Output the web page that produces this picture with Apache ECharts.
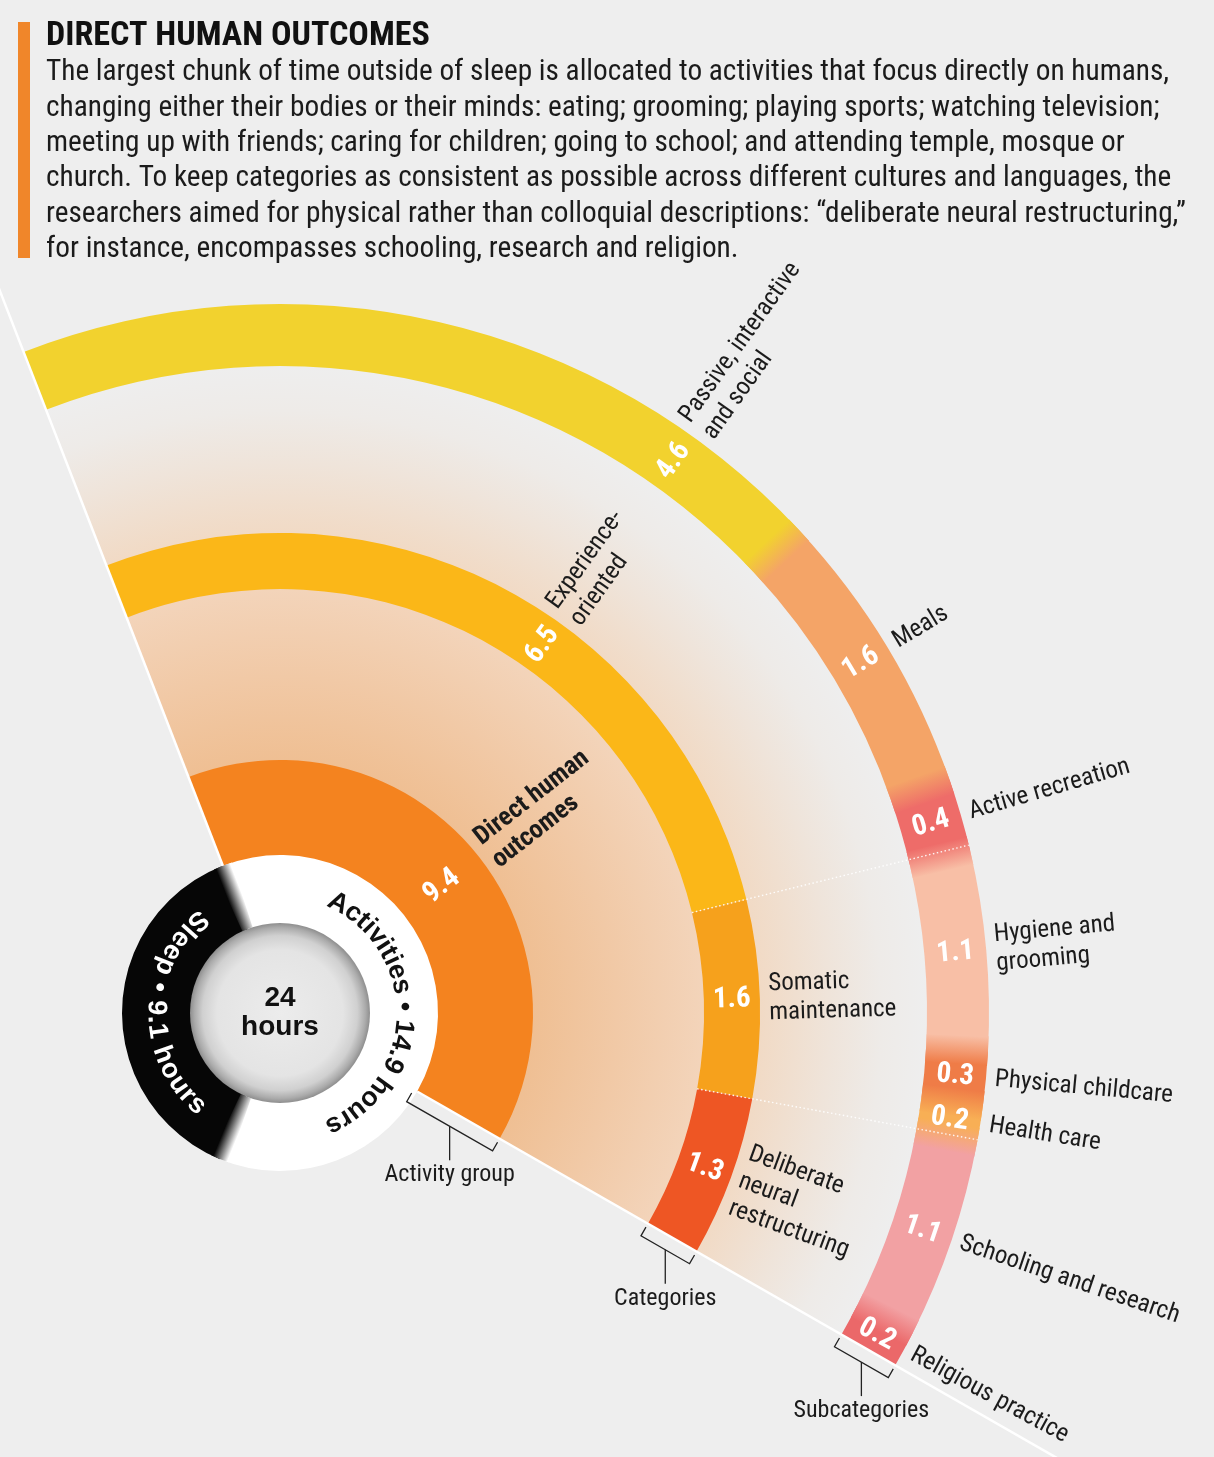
<!DOCTYPE html>
<html lang="en">
<head>
<meta charset="UTF-8">
<meta name="viewport" content="width=device-width, initial-scale=1.0">
<title>Direct human outcomes</title>
<script src="https://cdn.jsdelivr.net/npm/echarts@6.0.0/dist/echarts.min.js"></script>
<style>
    html, body { margin: 0; padding: 0; background: #eeeeee; }
    #container { width: 1214px; height: 1457px; }
</style>
</head>
<body>
<div id="container"></div>
<script type="text/javascript">
    // hours per day
    const totalHours = 24;
    const ringNames = ['Activities', 'Sleep'];
    const ringHours = [14.9, 9.1];
    const groupName = 'Direct human\noutcomes';
    const groupHours = 9.4;
    const categoryNames = ['Experience-\noriented', 'Somatic\nmaintenance', 'Deliberate\nneural\nrestructuring'];
    const categoryHours = [6.5, 1.6, 1.3];
    const subNames = ['Passive, interactive\nand social', 'Meals', 'Active recreation', 'Hygiene and\ngrooming',
        'Physical childcare', 'Health care', 'Schooling and research', 'Religious practice'];
    const subHours = [4.6, 1.6, 0.4, 1.1, 0.3, 0.2, 1.1, 0.2];

    const titleText = 'DIRECT HUMAN OUTCOMES';
    const introLines = [
        'The largest chunk of time outside of sleep is allocated to activities that focus directly on humans,',
        'changing either their bodies or their minds: eating; grooming; playing sports; watching television;',
        'meeting up with friends; caring for children; going to school; and attending temple, mosque or',
        'church. To keep categories as consistent as possible across different cultures and languages, the',
        'researchers aimed for physical rather than colloquial descriptions: \u201cdeliberate neural restructuring,\u201d',
        'for instance, encompasses schooling, research and religion.'
    ];
    const bracketLabels = ['Activity group', 'Categories', 'Subcategories'];

    // layout
    const CX = 280, CY = 1013, START = 111.2, DEG = Math.PI / 180;
    const R_CORE = 90, R_RING = 158, R_GROUP = 253;
    const R_CAT = [424, 480], R_SUB = [647, 709];
    const labelAngle = { 'Direct human\noutcomes': 38, 'Experience-\noriented': 54.5, 'Passive, interactive\nand social': 54.5 };

    const ringColors = ['#ffffff', '#060606'];
    const groupColor = '#f4831f';
    const categoryColors = ['#fbb718', '#f6a11c', '#ee5624'];
    const subColors = ['#f2d22e', '#f4a467', '#ee6c69', '#f8bfa6', '#ef7c47', '#f8af55', '#f2a1a3', '#eb6869'];

    const NARROW = '"Liberation Sans Narrow", "Arial Narrow", "Roboto Condensed", sans-serif';
    const SANS = '"Liberation Sans", Arial, Roboto, sans-serif';
    const INK = '#1b1b1b';

    const measureCtx = document.createElement('canvas').getContext('2d');
    function textWidth(str, font) {
        measureCtx.font = font;
        return measureCtx.measureText(str).width;
    }
    function sum(arr) { return arr.reduce((a, b) => a + b, 0); }
    function pt(deg, r) { return [CX + r * Math.cos(deg * DEG), CY - r * Math.sin(deg * DEG)]; }
    function plain(name) { return name.replace('-\n', '-').replace(/\n/g, ' '); }

    // start/end/mid angle of every slice, same rule the pie uses
    function spans(values, spanHours) {
        const total = sum(values);
        let acc = 0;
        return values.map(v => {
            const a0 = START - acc / total * spanHours / totalHours * 360;
            acc += v;
            const a1 = START - acc / total * spanHours / totalHours * 360;
            return [a0, a1, (a0 + a1) / 2];
        });
    }
    const ringSpans = spans(ringHours, totalHours);
    const groupSpan = spans([groupHours], groupHours)[0];
    const catSpans = spans(categoryHours, groupHours);
    const subSpans = spans(subHours, groupHours);
    const groupEnd = groupSpan[1];

    function bandSeries(names, values, colors, radius, spanHours, z) {
        const total = sum(values);
        const data = values.map((v, i) => ({ name: plain(names[i]), value: v, itemStyle: { color: colors[i] } }));
        const rest = total * totalHours / spanHours - total;
        if (rest > 1e-6) data.push({ name: 'rest', value: rest, itemStyle: { color: 'rgba(0,0,0,0)' } });
        return {
            type: 'pie', center: [CX, CY], radius: radius, startAngle: START, clockwise: true,
            z: z, silent: true, animation: false, avoidLabelOverlap: false,
            label: { show: false }, labelLine: { show: false }, emphasis: { disabled: true },
            itemStyle: { borderWidth: 0 }, data: data
        };
    }

    const zoneFill = {
        type: 'radial', x: CX, y: CY, r: R_SUB[0], global: true,
        colorStops: [
            { offset: 0, color: '#efbc8f' },
            { offset: 0.39, color: '#efbf93' },
            { offset: 0.52, color: '#f1c9a6' },
            { offset: 0.655, color: '#f3d4ba' },
            { offset: 0.742, color: '#f1dac5' },
            { offset: 0.85, color: '#efe4da' },
            { offset: 0.93, color: '#eeebe8' },
            { offset: 1, color: '#eeeeee' }
        ]
    };

    const g = [];

    // header
    const titleSize = Math.round(32 * 384 / textWidth(titleText, 'bold 32px ' + NARROW) * 10) / 10;
    const bodySize = Math.round(28 * 1122 / textWidth(introLines[0], '28px ' + NARROW) * 10) / 10;
    g.push({ type: 'rect', z: 50, shape: { x: 18, y: 22, width: 12, height: 236 }, style: { fill: '#f0862a' } });
    g.push({ type: 'text', z: 50, x: 46, y: 36, style: { text: titleText, fill: '#111', fontSize: titleSize, fontWeight: 'bold', fontFamily: NARROW, verticalAlign: 'middle' } });
    introLines.forEach((line, i) => {
        g.push({ type: 'text', z: 50, x: 46, y: 73 + i * 35.3, style: { text: line, fill: INK, fontSize: bodySize, fontFamily: NARROW, verticalAlign: 'middle' } });
    });

    // soft seam between two slices
    function fade(deg, half, r0, r1, colorHi, colorLo, z) {
        const a = pt(deg + half, (r0 + r1) / 2), b = pt(deg - half, (r0 + r1) / 2);
        g.push({
            type: 'sector', z: z, silent: true,
            shape: { cx: CX, cy: CY, r0: r0, r: r1, startAngle: -(deg + half) * DEG, endAngle: -(deg - half) * DEG, clockwise: true },
            style: { fill: { type: 'linear', x: a[0], y: a[1], x2: b[0], y2: b[1], global: true,
                colorStops: [{ offset: 0, color: colorHi }, { offset: 1, color: colorLo }] } }
        });
    }
    fade(ringSpans[0][0], 3.5, R_CORE, R_RING, ringColors[1], ringColors[0], 10);
    fade(ringSpans[0][1], 3.5, R_CORE, R_RING, ringColors[0], ringColors[1], 10);
    subSpans.slice(0, -1).forEach((s, i) => fade(s[1], 1.2, R_SUB[0], R_SUB[1], subColors[i], subColors[i + 1], 10));

    // inner disc
    g.push({
        type: 'circle', z: 12, shape: { cx: CX, cy: CY, r: R_CORE },
        style: { fill: { type: 'radial', x: 0.5, y: 0.5, r: 0.5, colorStops: [
            { offset: 0, color: '#ececec' }, { offset: 0.7, color: '#e4e4e4' }, { offset: 0.86, color: '#d0d0d0' },
            { offset: 0.95, color: '#ababab' }, { offset: 1, color: '#8e8e8e' }] } }
    });
    g.push({ type: 'text', z: 40, x: CX, y: CY, style: { text: totalHours + '\nhours', fill: '#111', fontSize: 28, fontWeight: 'bold', fontFamily: SANS, lineHeight: 29, align: 'center', verticalAlign: 'middle' } });

    // white edge rays and dotted category seams
    [[START, 800], [groupEnd, 900]].forEach(([deg, r]) => {
        const a = pt(deg, R_RING), b = pt(deg, r);
        g.push({ type: 'line', z: 20, shape: { x1: a[0], y1: a[1], x2: b[0], y2: b[1] }, style: { stroke: '#ffffff', lineWidth: 2.5 } });
    });
    catSpans.slice(0, -1).forEach(s => {
        const a = pt(s[1], R_CAT[0]), b = pt(s[1], R_SUB[1]);
        g.push({ type: 'line', z: 20, shape: { x1: a[0], y1: a[1], x2: b[0], y2: b[1] }, style: { stroke: '#ffffff', lineWidth: 1.4, lineDash: [1.5, 2.5], opacity: 0.9 } });
    });

    // text around the ring
    function arcText(str, midDeg, r, clockwise, fill) {
        const font = 'bold 27px ' + SANS;
        const chars = Array.from(str);
        const widths = chars.map(ch => textWidth(ch, font) + 0.5);
        const total = sum(widths);
        let acc = 0;
        chars.forEach((ch, i) => {
            const s = acc + widths[i] / 2 - total / 2;
            acc += widths[i];
            const th = midDeg * DEG + (clockwise ? -s / r : s / r);
            g.push({
                type: 'text', z: 40, x: CX + r * Math.cos(th), y: CY - r * Math.sin(th),
                rotation: clockwise ? th - Math.PI / 2 : th + Math.PI / 2,
                style: { text: ch, fill: fill, fontSize: 27, fontWeight: 'bold', fontFamily: SANS, align: 'center', verticalAlign: 'middle' }
            });
        });
    }
    const ringMid = (R_CORE + R_RING) / 2;
    arcText(ringNames[0] + ' \u2022 ' + ringHours[0] + ' hours', ringSpans[0][2], ringMid, true, '#111');
    arcText(ringNames[1] + ' \u2022 ' + ringHours[1] + ' hours', ringSpans[1][2], ringMid, false, '#ffffff');

    // radial labels
    function radial(text, deg, r, style) {
        const p = pt(deg, r);
        g.push({
            type: 'text', z: 45, x: p[0], y: p[1], rotation: deg * DEG,
            style: Object.assign({ text: text, align: 'left', verticalAlign: 'middle', fill: INK, fontFamily: NARROW, fontSize: 25, lineHeight: 29 }, style)
        });
    }
    const numStyle = { align: 'center', fill: '#ffffff', fontWeight: 'bold', fontSize: 29 };
    function ringLabels(names, values, sp, rIn, rOut, labelStyle) {
        names.forEach((name, i) => {
            const deg = labelAngle[name] !== undefined ? labelAngle[name] : sp[i][2];
            radial(values[i].toFixed(1), deg, (rIn + rOut) / 2, numStyle);
            radial(name, deg, rOut + 9, labelStyle || {});
        });
    }
    ringLabels([groupName], [groupHours], [groupSpan], R_RING, R_GROUP, { fontWeight: 'bold', fontSize: 26, lineHeight: 29 });
    ringLabels(categoryNames, categoryHours, catSpans, R_CAT[0], R_CAT[1]);
    ringLabels(subNames, subHours, subSpans, R_SUB[0], R_SUB[1]);

    // brackets under the closing edge
    function bracket(r0, r1, text) {
        const d = groupEnd * DEG;
        const n = [Math.sin(d), Math.cos(d)];
        const at = (r, off) => [CX + r * Math.cos(d) + n[0] * off, CY - r * Math.sin(d) + n[1] * off];
        const m = at((r0 + r1) / 2, 14);
        g.push({ type: 'polyline', z: 30, shape: { points: [at(r0, 4), at(r0, 14), at(r1, 14), at(r1, 4)] }, style: { stroke: '#222', lineWidth: 1.3, fill: null } });
        g.push({ type: 'line', z: 30, shape: { x1: m[0], y1: m[1], x2: m[0], y2: m[1] + 34 }, style: { stroke: '#222', lineWidth: 1.3 } });
        g.push({ type: 'text', z: 30, x: m[0], y: m[1] + 37, style: { text: text, fill: INK, fontSize: 24, fontFamily: NARROW, align: 'center', verticalAlign: 'top' } });
    }
    bracket(R_RING - 4, R_GROUP, bracketLabels[0]);
    bracket(R_CAT[0], R_CAT[1], bracketLabels[1]);
    bracket(R_SUB[0], R_SUB[1], bracketLabels[2]);

    const myChart = echarts.init(document.getElementById('container'), null, { renderer: 'canvas' });
    myChart.setOption({
        backgroundColor: '#eeeeee',
        animation: false,
        series: [
            bandSeries([groupName], [groupHours], [zoneFill], [R_GROUP - 1, R_SUB[0] + 1], groupHours, 1),
            bandSeries([groupName], [groupHours], [groupColor], [R_RING - 4, R_GROUP], groupHours, 2),
            bandSeries(categoryNames, categoryHours, categoryColors, R_CAT, groupHours, 2),
            bandSeries(subNames, subHours, subColors, R_SUB, groupHours, 2),
            bandSeries(ringNames, ringHours, ringColors, [R_CORE - 2, R_RING], totalHours, 3)
        ],
        graphic: { elements: g }
    });
</script>
</body>
</html>
